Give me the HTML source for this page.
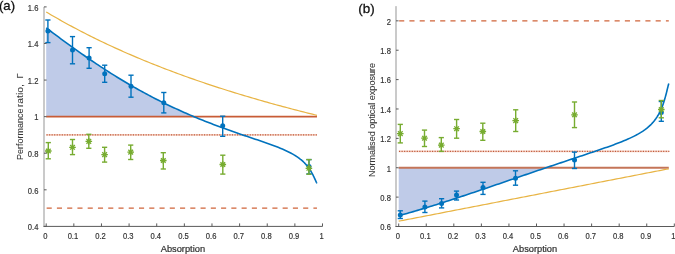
<!DOCTYPE html>
<html><head><meta charset="utf-8"><title>Figure</title>
<style>
html,body{margin:0;padding:0;background:#fff;}
body{width:675px;height:254px;overflow:hidden;}
svg{display:block;}
.tk{font-family:"Liberation Sans",Arial,sans-serif;font-size:8.45px;fill:#303030;stroke:#3a3a3a;stroke-width:0.18px;}
.al{font-family:"Liberation Sans",Arial,sans-serif;font-size:9.3px;fill:#303030;stroke:#333;stroke-width:0.22px;}
.yl{font-family:"Liberation Sans",Arial,sans-serif;font-size:9.3px;fill:#383838;stroke:#383838;stroke-width:0.08px;}
.pl{font-family:"Liberation Sans",Arial,sans-serif;font-size:13.4px;fill:#111;stroke:#111;stroke-width:0.3px;}
</style></head><body>
<svg width="675" height="254" viewBox="0 0 675 254">
<rect width="675" height="254" fill="#fff"/>
<polygon points="46.2,27.86 46.94,28.42 47.69,28.98 48.43,29.53 49.17,30.09 49.91,30.65 50.66,31.2 51.4,31.76 52.14,32.31 52.88,32.87 53.63,33.42 54.37,33.98 55.11,34.53 55.85,35.08 56.6,35.63 57.34,36.19 58.08,36.74 58.82,37.29 59.57,37.83 60.31,38.38 61.05,38.93 61.79,39.48 62.54,40.02 63.28,40.57 64.02,41.11 64.77,41.66 65.51,42.2 66.25,42.74 66.99,43.28 67.74,43.82 68.48,44.36 69.22,44.9 69.96,45.44 70.71,45.97 71.45,46.51 72.19,47.04 72.93,47.58 73.68,48.11 74.42,48.64 75.16,49.17 75.9,49.7 76.65,50.23 77.39,50.75 78.13,51.28 78.88,51.8 79.62,52.33 80.36,52.85 81.1,53.37 81.85,53.89 82.59,54.41 83.33,54.93 84.07,55.45 84.82,55.96 85.56,56.48 86.3,56.99 87.04,57.5 87.79,58.01 88.53,58.52 89.27,59.03 90.01,59.54 90.76,60.04 91.5,60.55 92.24,61.05 92.98,61.55 93.73,62.05 94.47,62.55 95.21,63.05 95.96,63.55 96.7,64.04 97.44,64.54 98.18,65.03 98.93,65.52 99.67,66.01 100.41,66.5 101.15,66.99 101.9,67.47 102.64,67.96 103.38,68.44 104.12,68.92 104.87,69.4 105.61,69.88 106.35,70.36 107.09,70.84 107.84,71.31 108.58,71.78 109.32,72.26 110.07,72.73 110.81,73.2 111.55,73.66 112.29,74.13 113.04,74.6 113.78,75.06 114.52,75.52 115.26,75.98 116.01,76.44 116.75,76.9 117.49,77.36 118.23,77.81 118.98,78.26 119.72,78.72 120.46,79.17 121.2,79.62 121.95,80.06 122.69,80.51 123.43,80.95 124.17,81.4 124.92,81.84 125.66,82.28 126.4,82.72 127.15,83.16 127.89,83.59 128.63,84.03 129.37,84.46 130.12,84.89 130.86,85.32 131.6,85.75 132.34,86.18 133.09,86.6 133.83,87.03 134.57,87.45 135.31,87.87 136.06,88.29 136.8,88.71 137.54,89.13 138.28,89.54 139.03,89.96 139.77,90.37 140.51,90.78 141.26,91.19 142,91.6 142.74,92 143.48,92.41 144.23,92.81 144.97,93.21 145.71,93.61 146.45,94.01 147.2,94.41 147.94,94.81 148.68,95.2 149.42,95.6 150.17,95.99 150.91,96.38 151.65,96.77 152.39,97.16 153.14,97.54 153.88,97.93 154.62,98.31 155.36,98.69 156.11,99.07 156.85,99.45 157.59,99.83 158.34,100.21 159.08,100.58 159.82,100.96 160.56,101.33 161.31,101.7 162.05,102.07 162.79,102.44 163.53,102.8 164.28,103.17 165.02,103.53 165.76,103.89 166.5,104.25 167.25,104.61 167.99,104.97 168.73,105.33 169.47,105.68 170.22,106.04 170.96,106.39 171.7,106.74 172.45,107.09 173.19,107.44 173.93,107.79 174.67,108.13 175.42,108.48 176.16,108.82 176.9,109.16 177.64,109.5 178.39,109.84 179.13,110.18 179.87,110.52 180.61,110.85 181.36,111.19 182.1,111.52 182.84,111.85 183.58,112.18 184.33,112.51 185.07,112.84 185.81,113.16 186.55,113.49 187.3,113.81 188.04,114.13 188.78,114.45 189.53,114.77 190.27,115.09 191.01,115.41 191.75,115.73 192.5,116.04 193.24,116.36 193.98,116.67 193.98,116.65 46.2,116.65" fill="#BFCBE8"/>
<line x1="46.2" y1="208.11" x2="316.97" y2="208.11" stroke="#D0643A" stroke-width="1.3" stroke-dasharray="5.1 5.16" stroke-dashoffset="-0.45"/>
<line x1="46.2" y1="134.94" x2="316.97" y2="134.94" stroke="#F6D0C2" stroke-width="1.8" />
<path d="M46.5,134.3h1.15v1.2h-1.15zM49.04,134.3h1.15v1.2h-1.15zM51.58,134.3h1.15v1.2h-1.15zM54.12,134.3h1.15v1.2h-1.15zM56.66,134.3h1.15v1.2h-1.15zM59.2,134.3h1.15v1.2h-1.15zM61.74,134.3h1.15v1.2h-1.15zM64.28,134.3h1.15v1.2h-1.15zM66.82,134.3h1.15v1.2h-1.15zM69.36,134.3h1.15v1.2h-1.15zM71.9,134.3h1.15v1.2h-1.15zM74.44,134.3h1.15v1.2h-1.15zM76.98,134.3h1.15v1.2h-1.15zM79.52,134.3h1.15v1.2h-1.15zM82.06,134.3h1.15v1.2h-1.15zM84.6,134.3h1.15v1.2h-1.15zM87.14,134.3h1.15v1.2h-1.15zM89.68,134.3h1.15v1.2h-1.15zM92.22,134.3h1.15v1.2h-1.15zM94.76,134.3h1.15v1.2h-1.15zM97.3,134.3h1.15v1.2h-1.15zM99.84,134.3h1.15v1.2h-1.15zM102.38,134.3h1.15v1.2h-1.15zM104.92,134.3h1.15v1.2h-1.15zM107.46,134.3h1.15v1.2h-1.15zM110,134.3h1.15v1.2h-1.15zM112.54,134.3h1.15v1.2h-1.15zM115.08,134.3h1.15v1.2h-1.15zM117.62,134.3h1.15v1.2h-1.15zM120.16,134.3h1.15v1.2h-1.15zM122.7,134.3h1.15v1.2h-1.15zM125.24,134.3h1.15v1.2h-1.15zM127.78,134.3h1.15v1.2h-1.15zM130.32,134.3h1.15v1.2h-1.15zM132.86,134.3h1.15v1.2h-1.15zM135.4,134.3h1.15v1.2h-1.15zM137.94,134.3h1.15v1.2h-1.15zM140.48,134.3h1.15v1.2h-1.15zM143.02,134.3h1.15v1.2h-1.15zM145.56,134.3h1.15v1.2h-1.15zM148.1,134.3h1.15v1.2h-1.15zM150.64,134.3h1.15v1.2h-1.15zM153.18,134.3h1.15v1.2h-1.15zM155.72,134.3h1.15v1.2h-1.15zM158.26,134.3h1.15v1.2h-1.15zM160.8,134.3h1.15v1.2h-1.15zM163.34,134.3h1.15v1.2h-1.15zM165.88,134.3h1.15v1.2h-1.15zM168.42,134.3h1.15v1.2h-1.15zM170.96,134.3h1.15v1.2h-1.15zM173.5,134.3h1.15v1.2h-1.15zM176.04,134.3h1.15v1.2h-1.15zM178.58,134.3h1.15v1.2h-1.15zM181.12,134.3h1.15v1.2h-1.15zM183.66,134.3h1.15v1.2h-1.15zM186.2,134.3h1.15v1.2h-1.15zM188.74,134.3h1.15v1.2h-1.15zM191.28,134.3h1.15v1.2h-1.15zM193.82,134.3h1.15v1.2h-1.15zM196.36,134.3h1.15v1.2h-1.15zM198.9,134.3h1.15v1.2h-1.15zM201.44,134.3h1.15v1.2h-1.15zM203.98,134.3h1.15v1.2h-1.15zM206.52,134.3h1.15v1.2h-1.15zM209.06,134.3h1.15v1.2h-1.15zM211.6,134.3h1.15v1.2h-1.15zM214.14,134.3h1.15v1.2h-1.15zM216.68,134.3h1.15v1.2h-1.15zM219.22,134.3h1.15v1.2h-1.15zM221.76,134.3h1.15v1.2h-1.15zM224.3,134.3h1.15v1.2h-1.15zM226.84,134.3h1.15v1.2h-1.15zM229.38,134.3h1.15v1.2h-1.15zM231.92,134.3h1.15v1.2h-1.15zM234.46,134.3h1.15v1.2h-1.15zM237,134.3h1.15v1.2h-1.15zM239.54,134.3h1.15v1.2h-1.15zM242.08,134.3h1.15v1.2h-1.15zM244.62,134.3h1.15v1.2h-1.15zM247.16,134.3h1.15v1.2h-1.15zM249.7,134.3h1.15v1.2h-1.15zM252.24,134.3h1.15v1.2h-1.15zM254.78,134.3h1.15v1.2h-1.15zM257.32,134.3h1.15v1.2h-1.15zM259.86,134.3h1.15v1.2h-1.15zM262.4,134.3h1.15v1.2h-1.15zM264.94,134.3h1.15v1.2h-1.15zM267.48,134.3h1.15v1.2h-1.15zM270.02,134.3h1.15v1.2h-1.15zM272.56,134.3h1.15v1.2h-1.15zM275.1,134.3h1.15v1.2h-1.15zM277.64,134.3h1.15v1.2h-1.15zM280.18,134.3h1.15v1.2h-1.15zM282.72,134.3h1.15v1.2h-1.15zM285.26,134.3h1.15v1.2h-1.15zM287.8,134.3h1.15v1.2h-1.15zM290.34,134.3h1.15v1.2h-1.15zM292.88,134.3h1.15v1.2h-1.15zM295.42,134.3h1.15v1.2h-1.15zM297.96,134.3h1.15v1.2h-1.15zM300.5,134.3h1.15v1.2h-1.15zM303.04,134.3h1.15v1.2h-1.15zM305.58,134.3h1.15v1.2h-1.15zM308.12,134.3h1.15v1.2h-1.15zM310.66,134.3h1.15v1.2h-1.15zM313.2,134.3h1.15v1.2h-1.15zM315.74,134.3h1.15v1.2h-1.15z" fill="#BE5A3C"/>
<line x1="46.2" y1="116.65" x2="316.97" y2="116.65" stroke="#C85C36" stroke-width="1.6" />
<polyline points="46.2,11.96 48.48,13.31 50.75,14.65 53.03,15.97 55.3,17.28 57.58,18.58 59.85,19.87 62.13,21.15 64.4,22.41 66.68,23.67 68.95,24.91 71.23,26.14 73.5,27.36 75.78,28.57 78.06,29.76 80.33,30.95 82.61,32.13 84.88,33.3 87.16,34.45 89.43,35.6 91.71,36.74 93.98,37.86 96.26,38.98 98.53,40.09 100.81,41.19 103.09,42.28 105.36,43.36 107.64,44.43 109.91,45.49 112.19,46.55 114.46,47.59 116.74,48.63 119.01,49.65 121.29,50.67 123.56,51.69 125.84,52.69 128.11,53.68 130.39,54.67 132.67,55.65 134.94,56.62 137.22,57.58 139.49,58.54 141.77,59.49 144.04,60.43 146.32,61.36 148.59,62.29 150.87,63.21 153.14,64.12 155.42,65.02 157.7,65.92 159.97,66.81 162.25,67.7 164.52,68.58 166.8,69.45 169.07,70.31 171.35,71.17 173.62,72.02 175.9,72.87 178.17,73.71 180.45,74.54 182.72,75.37 185,76.19 187.28,77 189.55,77.81 191.83,78.61 194.1,79.41 196.38,80.2 198.65,80.99 200.93,81.77 203.2,82.54 205.48,83.31 207.75,84.07 210.03,84.83 212.31,85.59 214.58,86.33 216.86,87.08 219.13,87.81 221.41,88.55 223.68,89.27 225.96,90 228.23,90.71 230.51,91.43 232.78,92.13 235.06,92.84 237.33,93.53 239.61,94.23 241.89,94.92 244.16,95.6 246.44,96.28 248.71,96.95 250.99,97.62 253.26,98.29 255.54,98.95 257.81,99.61 260.09,100.26 262.36,100.91 264.64,101.56 266.91,102.2 269.19,102.83 271.47,103.47 273.74,104.09 276.02,104.72 278.29,105.34 280.57,105.95 282.84,106.57 285.12,107.18 287.39,107.78 289.67,108.38 291.94,108.98 294.22,109.57 296.5,110.16 298.77,110.75 301.05,111.33 303.32,111.91 305.6,112.48 307.87,113.06 310.15,113.62 312.42,114.19 314.7,114.75 316.97,115.31" fill="none" stroke="#E8B444" stroke-width="1.2" stroke-linejoin="round" />
<polyline points="46.2,27.86 48.29,29.43 50.38,31 52.47,32.56 54.56,34.12 56.65,35.67 58.74,37.22 60.83,38.77 62.92,40.3 65.01,41.83 67.1,43.36 69.19,44.87 71.28,46.38 73.37,47.89 75.46,49.38 77.54,50.86 79.63,52.34 81.72,53.81 83.81,55.27 85.9,56.72 87.99,58.15 90.08,59.58 92.17,61 94.26,62.41 96.35,63.81 98.44,65.2 100.53,66.58 102.62,67.95 104.71,69.3 106.8,70.65 108.89,71.98 110.98,73.31 113.07,74.62 115.16,75.92 117.25,77.21 119.34,78.48 121.43,79.75 123.52,81.01 125.61,82.25 127.7,83.48 129.79,84.7 131.88,85.91 133.97,87.1 136.06,88.29 138.15,89.46 140.23,90.63 142.32,91.78 144.41,92.91 146.5,94.04 148.59,95.16 150.68,96.26 152.77,97.35 154.86,98.44 156.95,99.51 159.04,100.56 161.13,101.61 163.22,102.65 165.31,103.67 167.4,104.69 169.49,105.69 171.58,106.68 173.67,107.67 175.76,108.64 177.85,109.6 179.94,110.55 182.03,111.49 184.12,112.42 186.21,113.34 188.3,114.24 190.39,115.14 192.48,116.03 194.57,116.91 196.66,117.78 198.75,118.64 200.84,119.5 202.92,120.34 205.01,121.17 207.1,122 209.19,122.81 211.28,123.62 213.37,124.42 215.46,125.21 217.55,126 219.64,126.77 221.73,127.54 223.82,128.31 225.91,129.06 228,129.81 230.09,130.55 232.18,131.29 234.27,132.02 236.36,132.75 238.45,133.47 240.54,134.19 242.63,134.9 244.72,135.62 246.81,136.33 248.9,137.03 250.99,137.74 253.08,138.44 255.17,139.15 257.26,139.86 259.35,140.57 261.44,141.28 263.53,142 265.61,142.73 267.7,143.46 269.79,144.21 271.88,144.97 273.97,145.74 276.06,146.54 278.15,147.35 280.24,148.19 282.33,149.06 284.42,149.97 286.51,150.93 288.6,151.93 290.69,153 292.78,154.14 294.87,155.37 295.15,155.55 295.43,155.72 295.71,155.9 295.99,156.08 296.27,156.26 296.55,156.44 296.83,156.63 297.11,156.82 297.39,157.01 297.67,157.2 297.95,157.39 298.23,157.59 298.51,157.79 298.79,158 299.07,158.2 299.35,158.41 299.63,158.63 299.91,158.84 300.19,159.06 300.47,159.28 300.75,159.51 301.03,159.74 301.31,159.97 301.59,160.21 301.86,160.45 302.14,160.69 302.42,160.94 302.7,161.19 302.98,161.45 303.26,161.71 303.54,161.98 303.82,162.25 304.1,162.52 304.38,162.8 304.66,163.09 304.94,163.38 305.22,163.68 305.5,163.98 305.78,164.29 306.06,164.61 306.34,164.93 306.62,165.26 306.9,165.59 307.18,165.93 307.46,166.28 307.74,166.64 308.02,167 308.3,167.38 308.58,167.76 308.86,168.15 309.14,168.54 309.42,168.95 309.7,169.37 309.98,169.79 310.26,170.23 310.54,170.68 310.82,171.13 311.1,171.6 311.38,172.08 311.66,172.57 311.94,173.07 312.22,173.58 312.5,174.11 312.78,174.64 313.06,175.19 313.34,175.75 313.62,176.32 313.9,176.9 314.18,177.49 314.46,178.09 314.74,178.7 315.02,179.31 315.3,179.93 315.58,180.54 315.85,181.14 316.13,181.74 316.41,182.31 316.69,182.84 316.97,183.33" fill="none" stroke="#0072BD" stroke-width="1.6" stroke-linejoin="round" />
<line x1="47.9" y1="20" x2="47.9" y2="42.6" stroke="#0072BD" stroke-width="1.4"/>
<line x1="45.3" y1="20" x2="50.5" y2="20" stroke="#0072BD" stroke-width="1.4"/>
<line x1="45.3" y1="42.6" x2="50.5" y2="42.6" stroke="#0072BD" stroke-width="1.4"/>
<circle cx="47.9" cy="30.9" r="2.5" fill="#0072BD"/>
<line x1="72.5" y1="36.6" x2="72.5" y2="63.8" stroke="#0072BD" stroke-width="1.4"/>
<line x1="69.9" y1="36.6" x2="75.1" y2="36.6" stroke="#0072BD" stroke-width="1.4"/>
<line x1="69.9" y1="63.8" x2="75.1" y2="63.8" stroke="#0072BD" stroke-width="1.4"/>
<circle cx="72.5" cy="50.1" r="2.5" fill="#0072BD"/>
<line x1="89.1" y1="47.7" x2="89.1" y2="68.3" stroke="#0072BD" stroke-width="1.4"/>
<line x1="86.5" y1="47.7" x2="91.7" y2="47.7" stroke="#0072BD" stroke-width="1.4"/>
<line x1="86.5" y1="68.3" x2="91.7" y2="68.3" stroke="#0072BD" stroke-width="1.4"/>
<circle cx="89.1" cy="57.9" r="2.5" fill="#0072BD"/>
<line x1="104.7" y1="65.2" x2="104.7" y2="82.3" stroke="#0072BD" stroke-width="1.4"/>
<line x1="102.1" y1="65.2" x2="107.3" y2="65.2" stroke="#0072BD" stroke-width="1.4"/>
<line x1="102.1" y1="82.3" x2="107.3" y2="82.3" stroke="#0072BD" stroke-width="1.4"/>
<circle cx="104.7" cy="73.8" r="2.5" fill="#0072BD"/>
<line x1="131" y1="75.2" x2="131" y2="97.2" stroke="#0072BD" stroke-width="1.4"/>
<line x1="128.4" y1="75.2" x2="133.6" y2="75.2" stroke="#0072BD" stroke-width="1.4"/>
<line x1="128.4" y1="97.2" x2="133.6" y2="97.2" stroke="#0072BD" stroke-width="1.4"/>
<circle cx="131" cy="86.2" r="2.5" fill="#0072BD"/>
<line x1="163.8" y1="92.5" x2="163.8" y2="112.9" stroke="#0072BD" stroke-width="1.4"/>
<line x1="161.2" y1="92.5" x2="166.4" y2="92.5" stroke="#0072BD" stroke-width="1.4"/>
<line x1="161.2" y1="112.9" x2="166.4" y2="112.9" stroke="#0072BD" stroke-width="1.4"/>
<circle cx="163.8" cy="102.7" r="2.5" fill="#0072BD"/>
<line x1="222.7" y1="116.2" x2="222.7" y2="136.3" stroke="#0072BD" stroke-width="1.4"/>
<line x1="220.1" y1="116.2" x2="225.3" y2="116.2" stroke="#0072BD" stroke-width="1.4"/>
<line x1="220.1" y1="136.3" x2="225.3" y2="136.3" stroke="#0072BD" stroke-width="1.4"/>
<circle cx="222.7" cy="125.8" r="2.5" fill="#0072BD"/>
<line x1="309" y1="159.6" x2="309" y2="173.9" stroke="#0072BD" stroke-width="1.4"/>
<line x1="306.4" y1="159.6" x2="311.6" y2="159.6" stroke="#0072BD" stroke-width="1.4"/>
<line x1="306.4" y1="173.9" x2="311.6" y2="173.9" stroke="#0072BD" stroke-width="1.4"/>
<circle cx="309" cy="166.6" r="2.5" fill="#0072BD"/>
<line x1="48.3" y1="142.6" x2="48.3" y2="158.8" stroke="#77AC30" stroke-width="1.4"/>
<line x1="45.7" y1="142.6" x2="50.9" y2="142.6" stroke="#77AC30" stroke-width="1.4"/>
<line x1="45.7" y1="158.8" x2="50.9" y2="158.8" stroke="#77AC30" stroke-width="1.4"/>
<path d="M45,151H51.6M48.3,147.7V154.3M45.97,148.67L50.63,153.33M45.97,153.33L50.63,148.67" stroke="#77AC30" stroke-width="1.3" fill="none"/>
<line x1="72.5" y1="139.5" x2="72.5" y2="154.6" stroke="#77AC30" stroke-width="1.4"/>
<line x1="69.9" y1="139.5" x2="75.1" y2="139.5" stroke="#77AC30" stroke-width="1.4"/>
<line x1="69.9" y1="154.6" x2="75.1" y2="154.6" stroke="#77AC30" stroke-width="1.4"/>
<path d="M69.2,147.3H75.8M72.5,144V150.6M70.17,144.97L74.83,149.63M70.17,149.63L74.83,144.97" stroke="#77AC30" stroke-width="1.3" fill="none"/>
<line x1="88.8" y1="134.3" x2="88.8" y2="148.3" stroke="#77AC30" stroke-width="1.4"/>
<line x1="86.2" y1="134.3" x2="91.4" y2="134.3" stroke="#77AC30" stroke-width="1.4"/>
<line x1="86.2" y1="148.3" x2="91.4" y2="148.3" stroke="#77AC30" stroke-width="1.4"/>
<path d="M85.5,141.4H92.1M88.8,138.1V144.7M86.47,139.07L91.13,143.73M86.47,143.73L91.13,139.07" stroke="#77AC30" stroke-width="1.3" fill="none"/>
<line x1="104.6" y1="147.3" x2="104.6" y2="162.1" stroke="#77AC30" stroke-width="1.4"/>
<line x1="102" y1="147.3" x2="107.2" y2="147.3" stroke="#77AC30" stroke-width="1.4"/>
<line x1="102" y1="162.1" x2="107.2" y2="162.1" stroke="#77AC30" stroke-width="1.4"/>
<path d="M101.3,154.6H107.9M104.6,151.3V157.9M102.27,152.27L106.93,156.93M102.27,156.93L106.93,152.27" stroke="#77AC30" stroke-width="1.3" fill="none"/>
<line x1="130.7" y1="145.1" x2="130.7" y2="159.5" stroke="#77AC30" stroke-width="1.4"/>
<line x1="128.1" y1="145.1" x2="133.3" y2="145.1" stroke="#77AC30" stroke-width="1.4"/>
<line x1="128.1" y1="159.5" x2="133.3" y2="159.5" stroke="#77AC30" stroke-width="1.4"/>
<path d="M127.4,152.1H134M130.7,148.8V155.4M128.37,149.77L133.03,154.43M128.37,154.43L133.03,149.77" stroke="#77AC30" stroke-width="1.3" fill="none"/>
<line x1="163.3" y1="152.7" x2="163.3" y2="169" stroke="#77AC30" stroke-width="1.4"/>
<line x1="160.7" y1="152.7" x2="165.9" y2="152.7" stroke="#77AC30" stroke-width="1.4"/>
<line x1="160.7" y1="169" x2="165.9" y2="169" stroke="#77AC30" stroke-width="1.4"/>
<path d="M160,160.5H166.6M163.3,157.2V163.8M160.97,158.17L165.63,162.83M160.97,162.83L165.63,158.17" stroke="#77AC30" stroke-width="1.3" fill="none"/>
<line x1="222.8" y1="155.2" x2="222.8" y2="174.1" stroke="#77AC30" stroke-width="1.4"/>
<line x1="220.2" y1="155.2" x2="225.4" y2="155.2" stroke="#77AC30" stroke-width="1.4"/>
<line x1="220.2" y1="174.1" x2="225.4" y2="174.1" stroke="#77AC30" stroke-width="1.4"/>
<path d="M219.5,164.5H226.1M222.8,161.2V167.8M220.47,162.17L225.13,166.83M220.47,166.83L225.13,162.17" stroke="#77AC30" stroke-width="1.3" fill="none"/>
<line x1="308.9" y1="159.6" x2="308.9" y2="174.2" stroke="#77AC30" stroke-width="1.4"/>
<line x1="306.3" y1="159.6" x2="311.5" y2="159.6" stroke="#77AC30" stroke-width="1.4"/>
<line x1="306.3" y1="174.2" x2="311.5" y2="174.2" stroke="#77AC30" stroke-width="1.4"/>
<path d="M305.6,168.3H312.2M308.9,165V171.6M306.57,165.97L311.23,170.63M306.57,170.63L311.23,165.97" stroke="#77AC30" stroke-width="1.3" fill="none"/>
<polygon points="398.7,215.75 399.44,215.54 400.18,215.34 400.92,215.13 401.66,214.93 402.4,214.72 403.14,214.51 403.89,214.3 404.63,214.1 405.37,213.89 406.11,213.68 406.85,213.47 407.59,213.26 408.33,213.04 409.07,212.83 409.81,212.62 410.55,212.41 411.29,212.19 412.03,211.98 412.77,211.76 413.51,211.54 414.26,211.33 415,211.11 415.74,210.89 416.48,210.67 417.22,210.45 417.96,210.23 418.7,210.01 419.44,209.79 420.18,209.57 420.92,209.35 421.66,209.13 422.4,208.9 423.14,208.68 423.89,208.46 424.63,208.23 425.37,208.01 426.11,207.78 426.85,207.56 427.59,207.33 428.33,207.1 429.07,206.87 429.81,206.65 430.55,206.42 431.29,206.19 432.03,205.96 432.77,205.73 433.51,205.5 434.26,205.27 435,205.03 435.74,204.8 436.48,204.57 437.22,204.34 437.96,204.1 438.7,203.87 439.44,203.63 440.18,203.4 440.92,203.16 441.66,202.93 442.4,202.69 443.14,202.46 443.88,202.22 444.63,201.98 445.37,201.75 446.11,201.51 446.85,201.27 447.59,201.03 448.33,200.79 449.07,200.55 449.81,200.31 450.55,200.07 451.29,199.83 452.03,199.59 452.77,199.35 453.51,199.11 454.26,198.87 455,198.62 455.74,198.38 456.48,198.14 457.22,197.89 457.96,197.65 458.7,197.41 459.44,197.16 460.18,196.92 460.92,196.67 461.66,196.43 462.4,196.18 463.14,195.94 463.88,195.69 464.63,195.45 465.37,195.2 466.11,194.95 466.85,194.71 467.59,194.46 468.33,194.21 469.07,193.96 469.81,193.72 470.55,193.47 471.29,193.22 472.03,192.97 472.77,192.72 473.51,192.47 474.26,192.23 475,191.98 475.74,191.73 476.48,191.48 477.22,191.23 477.96,190.98 478.7,190.73 479.44,190.48 480.18,190.23 480.92,189.97 481.66,189.72 482.4,189.47 483.14,189.22 483.88,188.97 484.63,188.72 485.37,188.47 486.11,188.21 486.85,187.96 487.59,187.71 488.33,187.46 489.07,187.21 489.81,186.95 490.55,186.7 491.29,186.45 492.03,186.2 492.77,185.94 493.51,185.69 494.26,185.44 495,185.18 495.74,184.93 496.48,184.68 497.22,184.42 497.96,184.17 498.7,183.92 499.44,183.66 500.18,183.41 500.92,183.16 501.66,182.9 502.4,182.65 503.14,182.4 503.88,182.14 504.63,181.89 505.37,181.63 506.11,181.38 506.85,181.13 507.59,180.87 508.33,180.62 509.07,180.36 509.81,180.11 510.55,179.86 511.29,179.6 512.03,179.35 512.77,179.09 513.51,178.84 514.26,178.59 515,178.33 515.74,178.08 516.48,177.82 517.22,177.57 517.96,177.32 518.7,177.06 519.44,176.81 520.18,176.56 520.92,176.3 521.66,176.05 522.4,175.8 523.14,175.54 523.88,175.29 524.63,175.04 525.37,174.78 526.11,174.53 526.85,174.28 527.59,174.02 528.33,173.77 529.07,173.52 529.81,173.26 530.55,173.01 531.29,172.76 532.03,172.51 532.77,172.25 533.51,172 534.25,171.75 535,171.5 535.74,171.24 536.48,170.99 537.22,170.74 537.96,170.49 538.7,170.24 539.44,169.99 540.18,169.73 540.92,169.48 541.66,169.23 542.4,168.98 543.14,168.73 543.88,168.48 544.63,168.23 545.37,167.98 546.11,167.73 546.11,167.74 398.7,167.74" fill="#BFCBE8"/>
<line x1="398.7" y1="20.84" x2="668.79" y2="20.84" stroke="#D0643A" stroke-width="1.3" stroke-dasharray="5.1 5.16" stroke-dashoffset="-0.45"/>
<line x1="398.7" y1="151.42" x2="668.79" y2="151.42" stroke="#F6D0C2" stroke-width="1.8" />
<path d="M399,150.8h1.15v1.2h-1.15zM401.54,150.8h1.15v1.2h-1.15zM404.08,150.8h1.15v1.2h-1.15zM406.62,150.8h1.15v1.2h-1.15zM409.16,150.8h1.15v1.2h-1.15zM411.7,150.8h1.15v1.2h-1.15zM414.24,150.8h1.15v1.2h-1.15zM416.78,150.8h1.15v1.2h-1.15zM419.32,150.8h1.15v1.2h-1.15zM421.86,150.8h1.15v1.2h-1.15zM424.4,150.8h1.15v1.2h-1.15zM426.94,150.8h1.15v1.2h-1.15zM429.48,150.8h1.15v1.2h-1.15zM432.02,150.8h1.15v1.2h-1.15zM434.56,150.8h1.15v1.2h-1.15zM437.1,150.8h1.15v1.2h-1.15zM439.64,150.8h1.15v1.2h-1.15zM442.18,150.8h1.15v1.2h-1.15zM444.72,150.8h1.15v1.2h-1.15zM447.26,150.8h1.15v1.2h-1.15zM449.8,150.8h1.15v1.2h-1.15zM452.34,150.8h1.15v1.2h-1.15zM454.88,150.8h1.15v1.2h-1.15zM457.42,150.8h1.15v1.2h-1.15zM459.96,150.8h1.15v1.2h-1.15zM462.5,150.8h1.15v1.2h-1.15zM465.04,150.8h1.15v1.2h-1.15zM467.58,150.8h1.15v1.2h-1.15zM470.12,150.8h1.15v1.2h-1.15zM472.66,150.8h1.15v1.2h-1.15zM475.2,150.8h1.15v1.2h-1.15zM477.74,150.8h1.15v1.2h-1.15zM480.28,150.8h1.15v1.2h-1.15zM482.82,150.8h1.15v1.2h-1.15zM485.36,150.8h1.15v1.2h-1.15zM487.9,150.8h1.15v1.2h-1.15zM490.44,150.8h1.15v1.2h-1.15zM492.98,150.8h1.15v1.2h-1.15zM495.52,150.8h1.15v1.2h-1.15zM498.06,150.8h1.15v1.2h-1.15zM500.6,150.8h1.15v1.2h-1.15zM503.14,150.8h1.15v1.2h-1.15zM505.68,150.8h1.15v1.2h-1.15zM508.22,150.8h1.15v1.2h-1.15zM510.76,150.8h1.15v1.2h-1.15zM513.3,150.8h1.15v1.2h-1.15zM515.84,150.8h1.15v1.2h-1.15zM518.38,150.8h1.15v1.2h-1.15zM520.92,150.8h1.15v1.2h-1.15zM523.46,150.8h1.15v1.2h-1.15zM526,150.8h1.15v1.2h-1.15zM528.54,150.8h1.15v1.2h-1.15zM531.08,150.8h1.15v1.2h-1.15zM533.62,150.8h1.15v1.2h-1.15zM536.16,150.8h1.15v1.2h-1.15zM538.7,150.8h1.15v1.2h-1.15zM541.24,150.8h1.15v1.2h-1.15zM543.78,150.8h1.15v1.2h-1.15zM546.32,150.8h1.15v1.2h-1.15zM548.86,150.8h1.15v1.2h-1.15zM551.4,150.8h1.15v1.2h-1.15zM553.94,150.8h1.15v1.2h-1.15zM556.48,150.8h1.15v1.2h-1.15zM559.02,150.8h1.15v1.2h-1.15zM561.56,150.8h1.15v1.2h-1.15zM564.1,150.8h1.15v1.2h-1.15zM566.64,150.8h1.15v1.2h-1.15zM569.18,150.8h1.15v1.2h-1.15zM571.72,150.8h1.15v1.2h-1.15zM574.26,150.8h1.15v1.2h-1.15zM576.8,150.8h1.15v1.2h-1.15zM579.34,150.8h1.15v1.2h-1.15zM581.88,150.8h1.15v1.2h-1.15zM584.42,150.8h1.15v1.2h-1.15zM586.96,150.8h1.15v1.2h-1.15zM589.5,150.8h1.15v1.2h-1.15zM592.04,150.8h1.15v1.2h-1.15zM594.58,150.8h1.15v1.2h-1.15zM597.12,150.8h1.15v1.2h-1.15zM599.66,150.8h1.15v1.2h-1.15zM602.2,150.8h1.15v1.2h-1.15zM604.74,150.8h1.15v1.2h-1.15zM607.28,150.8h1.15v1.2h-1.15zM609.82,150.8h1.15v1.2h-1.15zM612.36,150.8h1.15v1.2h-1.15zM614.9,150.8h1.15v1.2h-1.15zM617.44,150.8h1.15v1.2h-1.15zM619.98,150.8h1.15v1.2h-1.15zM622.52,150.8h1.15v1.2h-1.15zM625.06,150.8h1.15v1.2h-1.15zM627.6,150.8h1.15v1.2h-1.15zM630.14,150.8h1.15v1.2h-1.15zM632.68,150.8h1.15v1.2h-1.15zM635.22,150.8h1.15v1.2h-1.15zM637.76,150.8h1.15v1.2h-1.15zM640.3,150.8h1.15v1.2h-1.15zM642.84,150.8h1.15v1.2h-1.15zM645.38,150.8h1.15v1.2h-1.15zM647.92,150.8h1.15v1.2h-1.15zM650.46,150.8h1.15v1.2h-1.15zM653,150.8h1.15v1.2h-1.15zM655.54,150.8h1.15v1.2h-1.15zM658.08,150.8h1.15v1.2h-1.15zM660.62,150.8h1.15v1.2h-1.15zM663.16,150.8h1.15v1.2h-1.15zM665.7,150.8h1.15v1.2h-1.15zM668.24,150.8h1.15v1.2h-1.15z" fill="#BE5A3C"/>
<line x1="398.7" y1="167.74" x2="668.79" y2="167.74" stroke="#C47558" stroke-width="1.8" />
<polyline points="398.7,221.21 400.97,220.77 403.24,220.33 405.51,219.89 407.78,219.45 410.05,219.01 412.32,218.57 414.59,218.13 416.86,217.69 419.13,217.25 421.4,216.81 423.67,216.37 425.94,215.93 428.21,215.49 430.48,215.05 432.74,214.61 435.01,214.17 437.28,213.73 439.55,213.29 441.82,212.84 444.09,212.4 446.36,211.96 448.63,211.52 450.9,211.08 453.17,210.64 455.44,210.2 457.71,209.76 459.98,209.32 462.25,208.88 464.52,208.44 466.79,208 469.06,207.56 471.33,207.12 473.6,206.68 475.87,206.24 478.14,205.8 480.41,205.36 482.68,204.92 484.95,204.48 487.22,204.04 489.49,203.6 491.76,203.16 494.03,202.72 496.29,202.28 498.56,201.84 500.83,201.4 503.1,200.96 505.37,200.51 507.64,200.07 509.91,199.63 512.18,199.19 514.45,198.75 516.72,198.31 518.99,197.87 521.26,197.43 523.53,196.99 525.8,196.55 528.07,196.11 530.34,195.67 532.61,195.23 534.88,194.79 537.15,194.35 539.42,193.91 541.69,193.47 543.96,193.03 546.23,192.59 548.5,192.15 550.77,191.71 553.04,191.27 555.31,190.83 557.58,190.39 559.84,189.95 562.11,189.51 564.38,189.07 566.65,188.63 568.92,188.19 571.19,187.74 573.46,187.3 575.73,186.86 578,186.42 580.27,185.98 582.54,185.54 584.81,185.1 587.08,184.66 589.35,184.22 591.62,183.78 593.89,183.34 596.16,182.9 598.43,182.46 600.7,182.02 602.97,181.58 605.24,181.14 607.51,180.7 609.78,180.26 612.05,179.82 614.32,179.38 616.59,178.94 618.86,178.5 621.13,178.06 623.4,177.62 625.66,177.18 627.93,176.74 630.2,176.3 632.47,175.86 634.74,175.41 637.01,174.97 639.28,174.53 641.55,174.09 643.82,173.65 646.09,173.21 648.36,172.77 650.63,172.33 652.9,171.89 655.17,171.45 657.44,171.01 659.71,170.57 661.98,170.13 664.25,169.69 666.52,169.25 668.79,168.81" fill="none" stroke="#E8B444" stroke-width="1.2" stroke-linejoin="round" />
<polyline points="398.7,215.75 400.78,215.17 402.87,214.59 404.95,214 407.04,213.41 409.12,212.82 411.21,212.22 413.29,211.61 415.37,211 417.46,210.38 419.54,209.76 421.63,209.14 423.71,208.51 425.8,207.88 427.88,207.24 429.97,206.6 432.05,205.95 434.13,205.3 436.22,204.65 438.3,203.99 440.39,203.33 442.47,202.67 444.56,202.01 446.64,201.34 448.72,200.66 450.81,199.99 452.89,199.31 454.98,198.63 457.06,197.95 459.15,197.26 461.23,196.57 463.32,195.88 465.4,195.19 467.48,194.49 469.57,193.8 471.65,193.1 473.74,192.4 475.82,191.7 477.91,190.99 479.99,190.29 482.07,189.58 484.16,188.88 486.24,188.17 488.33,187.46 490.41,186.75 492.5,186.04 494.58,185.33 496.67,184.61 498.75,183.9 500.83,183.19 502.92,182.47 505,181.76 507.09,181.04 509.17,180.33 511.26,179.61 513.34,178.9 515.42,178.19 517.51,177.47 519.59,176.76 521.68,176.04 523.76,175.33 525.85,174.62 527.93,173.91 530.02,173.19 532.1,172.48 534.18,171.77 536.27,171.06 538.35,170.35 540.44,169.65 542.52,168.94 544.61,168.23 546.69,167.53 548.77,166.82 550.86,166.12 552.94,165.42 555.03,164.72 557.11,164.02 559.2,163.32 561.28,162.62 563.37,161.92 565.45,161.22 567.53,160.52 569.62,159.83 571.7,159.13 573.79,158.44 575.87,157.74 577.96,157.05 580.04,156.35 582.12,155.66 584.21,154.96 586.29,154.26 588.38,153.56 590.46,152.86 592.55,152.16 594.63,151.45 596.72,150.75 598.8,150.03 600.88,149.32 602.97,148.6 605.05,147.87 607.14,147.14 609.22,146.39 611.31,145.64 613.39,144.88 615.47,144.1 617.56,143.31 619.64,142.51 621.73,141.68 623.81,140.83 625.9,139.96 627.98,139.05 630.07,138.11 632.15,137.13 634.23,136.1 636.32,135.02 638.4,133.87 640.49,132.63 642.57,131.31 644.66,129.87 646.74,128.29 647.02,128.07 647.3,127.84 647.58,127.61 647.86,127.38 648.14,127.14 648.41,126.9 648.69,126.65 648.97,126.41 649.25,126.16 649.53,125.9 649.81,125.64 650.09,125.38 650.37,125.11 650.65,124.84 650.93,124.56 651.21,124.28 651.48,123.99 651.76,123.7 652.04,123.4 652.32,123.1 652.6,122.79 652.88,122.47 653.16,122.15 653.44,121.83 653.72,121.49 654,121.15 654.28,120.81 654.55,120.45 654.83,120.09 655.11,119.72 655.39,119.35 655.67,118.96 655.95,118.57 656.23,118.16 656.51,117.75 656.79,117.33 657.07,116.9 657.35,116.46 657.62,116 657.9,115.54 658.18,115.07 658.46,114.58 658.74,114.08 659.02,113.56 659.3,113.04 659.58,112.5 659.86,111.94 660.14,111.37 660.42,110.78 660.69,110.18 660.97,109.56 661.25,108.92 661.53,108.26 661.81,107.58 662.09,106.88 662.37,106.17 662.65,105.42 662.93,104.66 663.21,103.87 663.49,103.06 663.76,102.22 664.04,101.35 664.32,100.46 664.6,99.54 664.88,98.6 665.16,97.62 665.44,96.62 665.72,95.58 666,94.52 666.28,93.44 666.56,92.33 666.83,91.2 667.11,90.05 667.39,88.89 667.67,87.74 667.95,86.6 668.23,85.49 668.51,84.43 668.79,83.47" fill="none" stroke="#0072BD" stroke-width="1.6" stroke-linejoin="round" />
<line x1="400.3" y1="210.8" x2="400.3" y2="218.5" stroke="#0072BD" stroke-width="1.4"/>
<line x1="397.7" y1="210.8" x2="402.9" y2="210.8" stroke="#0072BD" stroke-width="1.4"/>
<line x1="397.7" y1="218.5" x2="402.9" y2="218.5" stroke="#0072BD" stroke-width="1.4"/>
<circle cx="400.3" cy="215" r="2.5" fill="#0072BD"/>
<line x1="424.9" y1="201.1" x2="424.9" y2="212.5" stroke="#0072BD" stroke-width="1.4"/>
<line x1="422.3" y1="201.1" x2="427.5" y2="201.1" stroke="#0072BD" stroke-width="1.4"/>
<line x1="422.3" y1="212.5" x2="427.5" y2="212.5" stroke="#0072BD" stroke-width="1.4"/>
<circle cx="424.9" cy="207" r="2.5" fill="#0072BD"/>
<line x1="441.6" y1="198.7" x2="441.6" y2="207.9" stroke="#0072BD" stroke-width="1.4"/>
<line x1="439" y1="198.7" x2="444.2" y2="198.7" stroke="#0072BD" stroke-width="1.4"/>
<line x1="439" y1="207.9" x2="444.2" y2="207.9" stroke="#0072BD" stroke-width="1.4"/>
<circle cx="441.6" cy="203.6" r="2.5" fill="#0072BD"/>
<line x1="456.5" y1="191.1" x2="456.5" y2="200" stroke="#0072BD" stroke-width="1.4"/>
<line x1="453.9" y1="191.1" x2="459.1" y2="191.1" stroke="#0072BD" stroke-width="1.4"/>
<line x1="453.9" y1="200" x2="459.1" y2="200" stroke="#0072BD" stroke-width="1.4"/>
<circle cx="456.5" cy="195" r="2.5" fill="#0072BD"/>
<line x1="483" y1="182.3" x2="483" y2="194.4" stroke="#0072BD" stroke-width="1.4"/>
<line x1="480.4" y1="182.3" x2="485.6" y2="182.3" stroke="#0072BD" stroke-width="1.4"/>
<line x1="480.4" y1="194.4" x2="485.6" y2="194.4" stroke="#0072BD" stroke-width="1.4"/>
<circle cx="483" cy="187.6" r="2.5" fill="#0072BD"/>
<line x1="515.5" y1="170.8" x2="515.5" y2="185.2" stroke="#0072BD" stroke-width="1.4"/>
<line x1="512.9" y1="170.8" x2="518.1" y2="170.8" stroke="#0072BD" stroke-width="1.4"/>
<line x1="512.9" y1="185.2" x2="518.1" y2="185.2" stroke="#0072BD" stroke-width="1.4"/>
<circle cx="515.5" cy="178.2" r="2.5" fill="#0072BD"/>
<line x1="574.5" y1="152.1" x2="574.5" y2="168.5" stroke="#0072BD" stroke-width="1.4"/>
<line x1="571.9" y1="152.1" x2="577.1" y2="152.1" stroke="#0072BD" stroke-width="1.4"/>
<line x1="571.9" y1="168.5" x2="577.1" y2="168.5" stroke="#0072BD" stroke-width="1.4"/>
<circle cx="574.5" cy="160" r="2.5" fill="#0072BD"/>
<line x1="661.3" y1="101.5" x2="661.3" y2="121.3" stroke="#0072BD" stroke-width="1.4"/>
<line x1="658.7" y1="101.5" x2="663.9" y2="101.5" stroke="#0072BD" stroke-width="1.4"/>
<line x1="658.7" y1="121.3" x2="663.9" y2="121.3" stroke="#0072BD" stroke-width="1.4"/>
<circle cx="661.3" cy="112.5" r="2.5" fill="#0072BD"/>
<line x1="400.3" y1="124.4" x2="400.3" y2="142.9" stroke="#77AC30" stroke-width="1.4"/>
<line x1="397.7" y1="124.4" x2="402.9" y2="124.4" stroke="#77AC30" stroke-width="1.4"/>
<line x1="397.7" y1="142.9" x2="402.9" y2="142.9" stroke="#77AC30" stroke-width="1.4"/>
<path d="M397,133.6H403.6M400.3,130.3V136.9M397.97,131.27L402.63,135.93M397.97,135.93L402.63,131.27" stroke="#77AC30" stroke-width="1.3" fill="none"/>
<line x1="424.5" y1="130.1" x2="424.5" y2="146.5" stroke="#77AC30" stroke-width="1.4"/>
<line x1="421.9" y1="130.1" x2="427.1" y2="130.1" stroke="#77AC30" stroke-width="1.4"/>
<line x1="421.9" y1="146.5" x2="427.1" y2="146.5" stroke="#77AC30" stroke-width="1.4"/>
<path d="M421.2,138.2H427.8M424.5,134.9V141.5M422.17,135.87L426.83,140.53M422.17,140.53L426.83,135.87" stroke="#77AC30" stroke-width="1.3" fill="none"/>
<line x1="441.3" y1="137.6" x2="441.3" y2="151.4" stroke="#77AC30" stroke-width="1.4"/>
<line x1="438.7" y1="137.6" x2="443.9" y2="137.6" stroke="#77AC30" stroke-width="1.4"/>
<line x1="438.7" y1="151.4" x2="443.9" y2="151.4" stroke="#77AC30" stroke-width="1.4"/>
<path d="M438,145.1H444.6M441.3,141.8V148.4M438.97,142.77L443.63,147.43M438.97,147.43L443.63,142.77" stroke="#77AC30" stroke-width="1.3" fill="none"/>
<line x1="456.6" y1="119.5" x2="456.6" y2="138.2" stroke="#77AC30" stroke-width="1.4"/>
<line x1="454" y1="119.5" x2="459.2" y2="119.5" stroke="#77AC30" stroke-width="1.4"/>
<line x1="454" y1="138.2" x2="459.2" y2="138.2" stroke="#77AC30" stroke-width="1.4"/>
<path d="M453.3,128.7H459.9M456.6,125.4V132M454.27,126.37L458.93,131.03M454.27,131.03L458.93,126.37" stroke="#77AC30" stroke-width="1.3" fill="none"/>
<line x1="482.8" y1="123.2" x2="482.8" y2="140.3" stroke="#77AC30" stroke-width="1.4"/>
<line x1="480.2" y1="123.2" x2="485.4" y2="123.2" stroke="#77AC30" stroke-width="1.4"/>
<line x1="480.2" y1="140.3" x2="485.4" y2="140.3" stroke="#77AC30" stroke-width="1.4"/>
<path d="M479.5,131.5H486.1M482.8,128.2V134.8M480.47,129.17L485.13,133.83M480.47,133.83L485.13,129.17" stroke="#77AC30" stroke-width="1.3" fill="none"/>
<line x1="515.7" y1="109.8" x2="515.7" y2="131.5" stroke="#77AC30" stroke-width="1.4"/>
<line x1="513.1" y1="109.8" x2="518.3" y2="109.8" stroke="#77AC30" stroke-width="1.4"/>
<line x1="513.1" y1="131.5" x2="518.3" y2="131.5" stroke="#77AC30" stroke-width="1.4"/>
<path d="M512.4,120.6H519M515.7,117.3V123.9M513.37,118.27L518.03,122.93M513.37,122.93L518.03,118.27" stroke="#77AC30" stroke-width="1.3" fill="none"/>
<line x1="574.5" y1="102" x2="574.5" y2="127.6" stroke="#77AC30" stroke-width="1.4"/>
<line x1="571.9" y1="102" x2="577.1" y2="102" stroke="#77AC30" stroke-width="1.4"/>
<line x1="571.9" y1="127.6" x2="577.1" y2="127.6" stroke="#77AC30" stroke-width="1.4"/>
<path d="M571.2,114.8H577.8M574.5,111.5V118.1M572.17,112.47L576.83,117.13M572.17,117.13L576.83,112.47" stroke="#77AC30" stroke-width="1.3" fill="none"/>
<line x1="661.3" y1="100.5" x2="661.3" y2="117.8" stroke="#77AC30" stroke-width="1.4"/>
<line x1="658.7" y1="100.5" x2="663.9" y2="100.5" stroke="#77AC30" stroke-width="1.4"/>
<line x1="658.7" y1="117.8" x2="663.9" y2="117.8" stroke="#77AC30" stroke-width="1.4"/>
<path d="M658,109.5H664.6M661.3,106.2V112.8M658.97,107.17L663.63,111.83M658.97,111.83L663.63,107.17" stroke="#77AC30" stroke-width="1.3" fill="none"/>
<line x1="44" y1="6.9" x2="44" y2="226.9" stroke="#959595" stroke-width="1"/>
<line x1="43.5" y1="226.4" x2="322.5" y2="226.4" stroke="#5a5a5a" stroke-width="1"/>
<line x1="44" y1="226.4" x2="46.6" y2="226.4" stroke="#5a5a5a" stroke-width="1"/>
<text transform="translate(38.4,230.2) scale(0.9,1)" text-anchor="end" class="tk">0.4</text>
<line x1="44" y1="189.82" x2="46.6" y2="189.82" stroke="#5a5a5a" stroke-width="1"/>
<text transform="translate(38.4,193.62) scale(0.9,1)" text-anchor="end" class="tk">0.6</text>
<line x1="44" y1="153.23" x2="46.6" y2="153.23" stroke="#5a5a5a" stroke-width="1"/>
<text transform="translate(38.4,157.03) scale(0.9,1)" text-anchor="end" class="tk">0.8</text>
<line x1="44" y1="116.65" x2="46.6" y2="116.65" stroke="#5a5a5a" stroke-width="1"/>
<text transform="translate(38.4,120.45) scale(0.9,1)" text-anchor="end" class="tk">1</text>
<line x1="44" y1="80.07" x2="46.6" y2="80.07" stroke="#5a5a5a" stroke-width="1"/>
<text transform="translate(38.4,83.87) scale(0.9,1)" text-anchor="end" class="tk">1.2</text>
<line x1="44" y1="43.48" x2="46.6" y2="43.48" stroke="#5a5a5a" stroke-width="1"/>
<text transform="translate(38.4,47.28) scale(0.9,1)" text-anchor="end" class="tk">1.4</text>
<line x1="44" y1="6.9" x2="46.6" y2="6.9" stroke="#5a5a5a" stroke-width="1"/>
<text transform="translate(38.4,10.7) scale(0.9,1)" text-anchor="end" class="tk">1.6</text>
<line x1="46.2" y1="226.4" x2="46.2" y2="223.4" stroke="#5a5a5a" stroke-width="1"/>
<text transform="translate(45.3,239.2) scale(0.9,1)" text-anchor="middle" class="tk">0</text>
<line x1="73.83" y1="226.4" x2="73.83" y2="223.4" stroke="#5a5a5a" stroke-width="1"/>
<text transform="translate(72.93,239.2) scale(0.9,1)" text-anchor="middle" class="tk">0.1</text>
<line x1="101.46" y1="226.4" x2="101.46" y2="223.4" stroke="#5a5a5a" stroke-width="1"/>
<text transform="translate(100.56,239.2) scale(0.9,1)" text-anchor="middle" class="tk">0.2</text>
<line x1="129.09" y1="226.4" x2="129.09" y2="223.4" stroke="#5a5a5a" stroke-width="1"/>
<text transform="translate(128.19,239.2) scale(0.9,1)" text-anchor="middle" class="tk">0.3</text>
<line x1="156.72" y1="226.4" x2="156.72" y2="223.4" stroke="#5a5a5a" stroke-width="1"/>
<text transform="translate(155.82,239.2) scale(0.9,1)" text-anchor="middle" class="tk">0.4</text>
<line x1="184.35" y1="226.4" x2="184.35" y2="223.4" stroke="#5a5a5a" stroke-width="1"/>
<text transform="translate(183.45,239.2) scale(0.9,1)" text-anchor="middle" class="tk">0.5</text>
<line x1="211.98" y1="226.4" x2="211.98" y2="223.4" stroke="#5a5a5a" stroke-width="1"/>
<text transform="translate(211.08,239.2) scale(0.9,1)" text-anchor="middle" class="tk">0.6</text>
<line x1="239.61" y1="226.4" x2="239.61" y2="223.4" stroke="#5a5a5a" stroke-width="1"/>
<text transform="translate(238.71,239.2) scale(0.9,1)" text-anchor="middle" class="tk">0.7</text>
<line x1="267.24" y1="226.4" x2="267.24" y2="223.4" stroke="#5a5a5a" stroke-width="1"/>
<text transform="translate(266.34,239.2) scale(0.9,1)" text-anchor="middle" class="tk">0.8</text>
<line x1="294.87" y1="226.4" x2="294.87" y2="223.4" stroke="#5a5a5a" stroke-width="1"/>
<text transform="translate(293.97,239.2) scale(0.9,1)" text-anchor="middle" class="tk">0.9</text>
<line x1="322.5" y1="226.4" x2="322.5" y2="223.4" stroke="#5a5a5a" stroke-width="1"/>
<text transform="translate(321.6,239.2) scale(0.9,1)" text-anchor="middle" class="tk">1</text>
<line x1="396" y1="6.15" x2="396" y2="227" stroke="#959595" stroke-width="1"/>
<line x1="395.5" y1="226.5" x2="674.3" y2="226.5" stroke="#5a5a5a" stroke-width="1"/>
<line x1="396" y1="226.5" x2="398.6" y2="226.5" stroke="#5a5a5a" stroke-width="1"/>
<text transform="translate(390.9,230.3) scale(0.9,1)" text-anchor="end" class="tk">0.6</text>
<line x1="396" y1="197.12" x2="398.6" y2="197.12" stroke="#5a5a5a" stroke-width="1"/>
<text transform="translate(390.9,200.92) scale(0.9,1)" text-anchor="end" class="tk">0.8</text>
<line x1="396" y1="167.74" x2="398.6" y2="167.74" stroke="#5a5a5a" stroke-width="1"/>
<text transform="translate(390.9,171.54) scale(0.9,1)" text-anchor="end" class="tk">1</text>
<line x1="396" y1="138.36" x2="398.6" y2="138.36" stroke="#5a5a5a" stroke-width="1"/>
<text transform="translate(390.9,142.16) scale(0.9,1)" text-anchor="end" class="tk">1.2</text>
<line x1="396" y1="108.98" x2="398.6" y2="108.98" stroke="#5a5a5a" stroke-width="1"/>
<text transform="translate(390.9,112.78) scale(0.9,1)" text-anchor="end" class="tk">1.4</text>
<line x1="396" y1="79.6" x2="398.6" y2="79.6" stroke="#5a5a5a" stroke-width="1"/>
<text transform="translate(390.9,83.4) scale(0.9,1)" text-anchor="end" class="tk">1.6</text>
<line x1="396" y1="50.22" x2="398.6" y2="50.22" stroke="#5a5a5a" stroke-width="1"/>
<text transform="translate(390.9,54.02) scale(0.9,1)" text-anchor="end" class="tk">1.8</text>
<line x1="396" y1="20.84" x2="398.6" y2="20.84" stroke="#5a5a5a" stroke-width="1"/>
<text transform="translate(390.9,24.64) scale(0.9,1)" text-anchor="end" class="tk">2</text>
<line x1="398.7" y1="226.5" x2="398.7" y2="223.5" stroke="#5a5a5a" stroke-width="1"/>
<text transform="translate(397.8,239.3) scale(0.9,1)" text-anchor="middle" class="tk">0</text>
<line x1="426.26" y1="226.5" x2="426.26" y2="223.5" stroke="#5a5a5a" stroke-width="1"/>
<text transform="translate(425.36,239.3) scale(0.9,1)" text-anchor="middle" class="tk">0.1</text>
<line x1="453.82" y1="226.5" x2="453.82" y2="223.5" stroke="#5a5a5a" stroke-width="1"/>
<text transform="translate(452.92,239.3) scale(0.9,1)" text-anchor="middle" class="tk">0.2</text>
<line x1="481.38" y1="226.5" x2="481.38" y2="223.5" stroke="#5a5a5a" stroke-width="1"/>
<text transform="translate(480.48,239.3) scale(0.9,1)" text-anchor="middle" class="tk">0.3</text>
<line x1="508.94" y1="226.5" x2="508.94" y2="223.5" stroke="#5a5a5a" stroke-width="1"/>
<text transform="translate(508.04,239.3) scale(0.9,1)" text-anchor="middle" class="tk">0.4</text>
<line x1="536.5" y1="226.5" x2="536.5" y2="223.5" stroke="#5a5a5a" stroke-width="1"/>
<text transform="translate(535.6,239.3) scale(0.9,1)" text-anchor="middle" class="tk">0.5</text>
<line x1="564.06" y1="226.5" x2="564.06" y2="223.5" stroke="#5a5a5a" stroke-width="1"/>
<text transform="translate(563.16,239.3) scale(0.9,1)" text-anchor="middle" class="tk">0.6</text>
<line x1="591.62" y1="226.5" x2="591.62" y2="223.5" stroke="#5a5a5a" stroke-width="1"/>
<text transform="translate(590.72,239.3) scale(0.9,1)" text-anchor="middle" class="tk">0.7</text>
<line x1="619.18" y1="226.5" x2="619.18" y2="223.5" stroke="#5a5a5a" stroke-width="1"/>
<text transform="translate(618.28,239.3) scale(0.9,1)" text-anchor="middle" class="tk">0.8</text>
<line x1="646.74" y1="226.5" x2="646.74" y2="223.5" stroke="#5a5a5a" stroke-width="1"/>
<text transform="translate(645.84,239.3) scale(0.9,1)" text-anchor="middle" class="tk">0.9</text>
<line x1="674.3" y1="226.5" x2="674.3" y2="223.5" stroke="#5a5a5a" stroke-width="1"/>
<text transform="translate(673.4,239.3) scale(0.9,1)" text-anchor="middle" class="tk">1</text>
<text x="182.9" y="251.8" text-anchor="middle" class="al" textLength="44.4" lengthAdjust="spacingAndGlyphs">Absorption</text>
<text x="535" y="251.8" text-anchor="middle" class="al" textLength="44.3" lengthAdjust="spacingAndGlyphs">Absorption</text>
<text transform="translate(23.3,159.9) rotate(-90)" class="yl" textLength="51.3" lengthAdjust="spacingAndGlyphs">Performance</text>
<text transform="translate(23.3,107.2) rotate(-90)" class="yl" textLength="23.1" lengthAdjust="spacingAndGlyphs">ratio,</text>
<text transform="translate(23.3,78.6) rotate(-90)" class="yl">Γ</text>
<text transform="translate(375.1,177) rotate(-90)" class="yl" textLength="114" lengthAdjust="spacingAndGlyphs">Normalised optical exposure</text>
<text transform="translate(-1.0,9.5) scale(0.98,1)" class="pl">(a)</text>
<text transform="translate(358.3,12.8)" class="pl">(b)</text>
</svg>
</body></html>
